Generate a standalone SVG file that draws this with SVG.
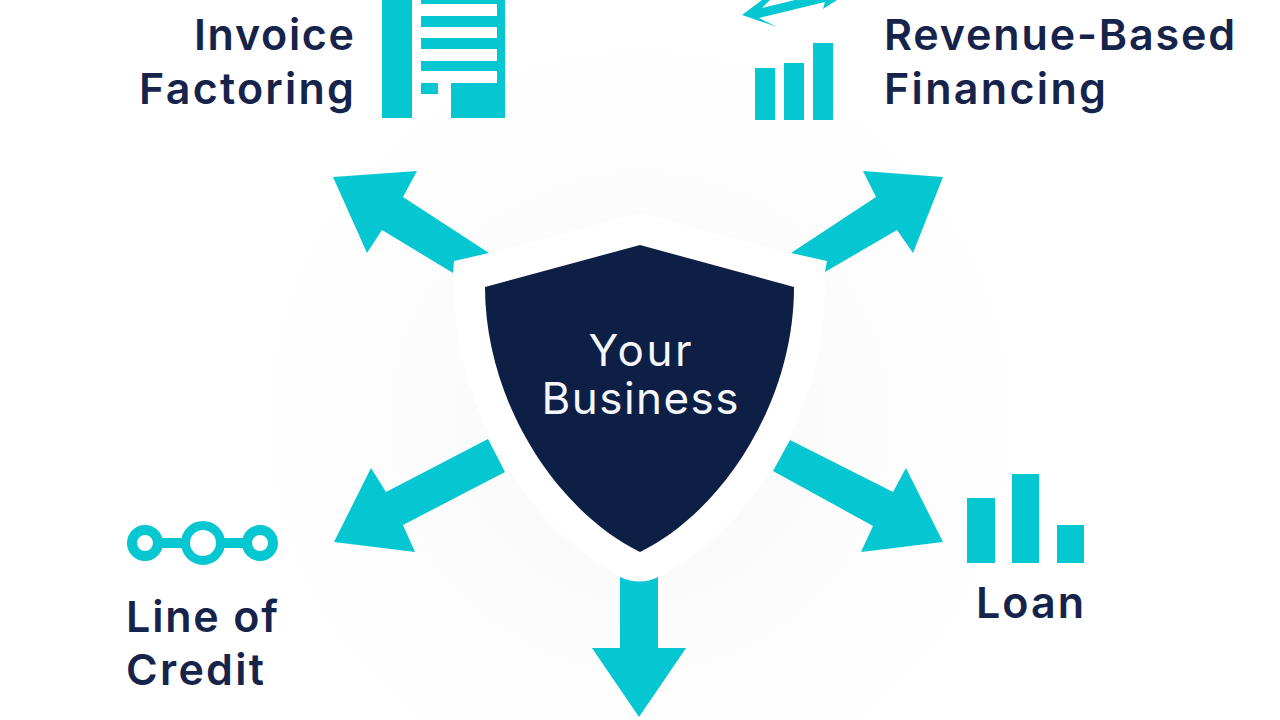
<svg xmlns="http://www.w3.org/2000/svg" width="1280" height="720" viewBox="0 0 1280 720">
<defs>
<radialGradient id="glow" cx="640" cy="420" r="400" gradientUnits="userSpaceOnUse">
<stop offset="0" stop-color="#f9f9fa"/><stop offset="0.55" stop-color="#fcfcfc"/><stop offset="1" stop-color="#ffffff"/>
</radialGradient>
</defs>
<style>
.c{fill:#05c7d2}
.t{font-family:"Inter","Liberation Sans",sans-serif;font-weight:600;fill:#16234a;font-size:43px}
.w{font-family:"Inter","Liberation Sans",sans-serif;font-weight:400;fill:#f4f6fa;font-size:44px;text-anchor:middle}
</style>
<rect width="1280" height="720" fill="#ffffff"/>
<rect width="1280" height="720" fill="url(#glow)"/>
<g id="center">
<path id="halo" d="M640 245L794 287C794 400 725 510 640 552C555 510 485 400 485 287Z" fill="#ffffff" stroke="#ffffff" stroke-width="62" stroke-linejoin="round"/>
<path d="M640 245L794 287C794 400 725 510 640 552C555 510 485 400 485 287Z" fill="#0d1f45"/>
<text class="w" x="640" y="366" textLength="103">Your</text>
<text class="w" x="640" y="414" textLength="197">Business</text>
</g>
<g id="connectors">
<polygon class="c" points="333,177 417,171 403,197 489,253 454,261 453,273 382,230 367,253"/>
<polygon class="c" points="943,177 863,171 876,197 791,253 827,261 825,272 897,230 913,253"/>
<polygon class="c" points="334,542 371,468 386,492 488,439 505,472 403,525 415,552"/>
<polygon class="c" points="943,542 906,468 893,492 790,440 773,471 873,526 861,552"/>
<path class="c" d="M620 577Q640 586 658 577V648H686L639 717L592 648H620Z"/>
</g>
<g id="invoice-factoring">
<path class="c" d="M382 0H412V118H382Z"/>
<path class="c" d="M421 0H505V83H497V71H421V61H497V49H421V38H497V27H421V16H497V4H421Z"/>
<rect class="c" x="421" y="83" width="17" height="11"/>
<rect class="c" x="451" y="83" width="54" height="35"/>
<text class="t" x="354" y="50" text-anchor="end" textLength="160">Invoice</text>
<text class="t" x="354" y="104" text-anchor="end" textLength="215">Factoring</text>
</g>
<g id="revenue-based-financing">
<path class="c" d="M742 15L762 0H770L762 8L795 0H837L823 9L825 2L759 18L777 27Z"/>
<rect class="c" x="755" y="68" width="20" height="52"/>
<rect class="c" x="784" y="63" width="20" height="57"/>
<rect class="c" x="813" y="43" width="20" height="77"/>
<text class="t" x="884" y="50" textLength="351">Revenue-Based</text>
<text class="t" x="884" y="104" textLength="222">Financing</text>
</g>
<g id="line-of-credit">
<path d="M145 543H260" stroke="#05c7d2" stroke-width="10" fill="none"/>
<circle cx="145" cy="543" r="13" fill="#fff" stroke="#05c7d2" stroke-width="10"/>
<circle cx="203" cy="543" r="17.500" fill="#fff" stroke="#05c7d2" stroke-width="9"/>
<circle cx="260" cy="543" r="13" fill="#fff" stroke="#05c7d2" stroke-width="10"/>
<text class="t" x="126" y="632" textLength="152">Line of</text>
<text class="t" x="126" y="685" textLength="138">Credit</text>
</g>
<g id="loan">
<rect class="c" x="967" y="498" width="28" height="65"/>
<rect class="c" x="1012" y="474" width="27" height="89"/>
<rect class="c" x="1057" y="525" width="27" height="38"/>
<text class="t" x="976" y="618" textLength="108">Loan</text>
</g>
</svg>
